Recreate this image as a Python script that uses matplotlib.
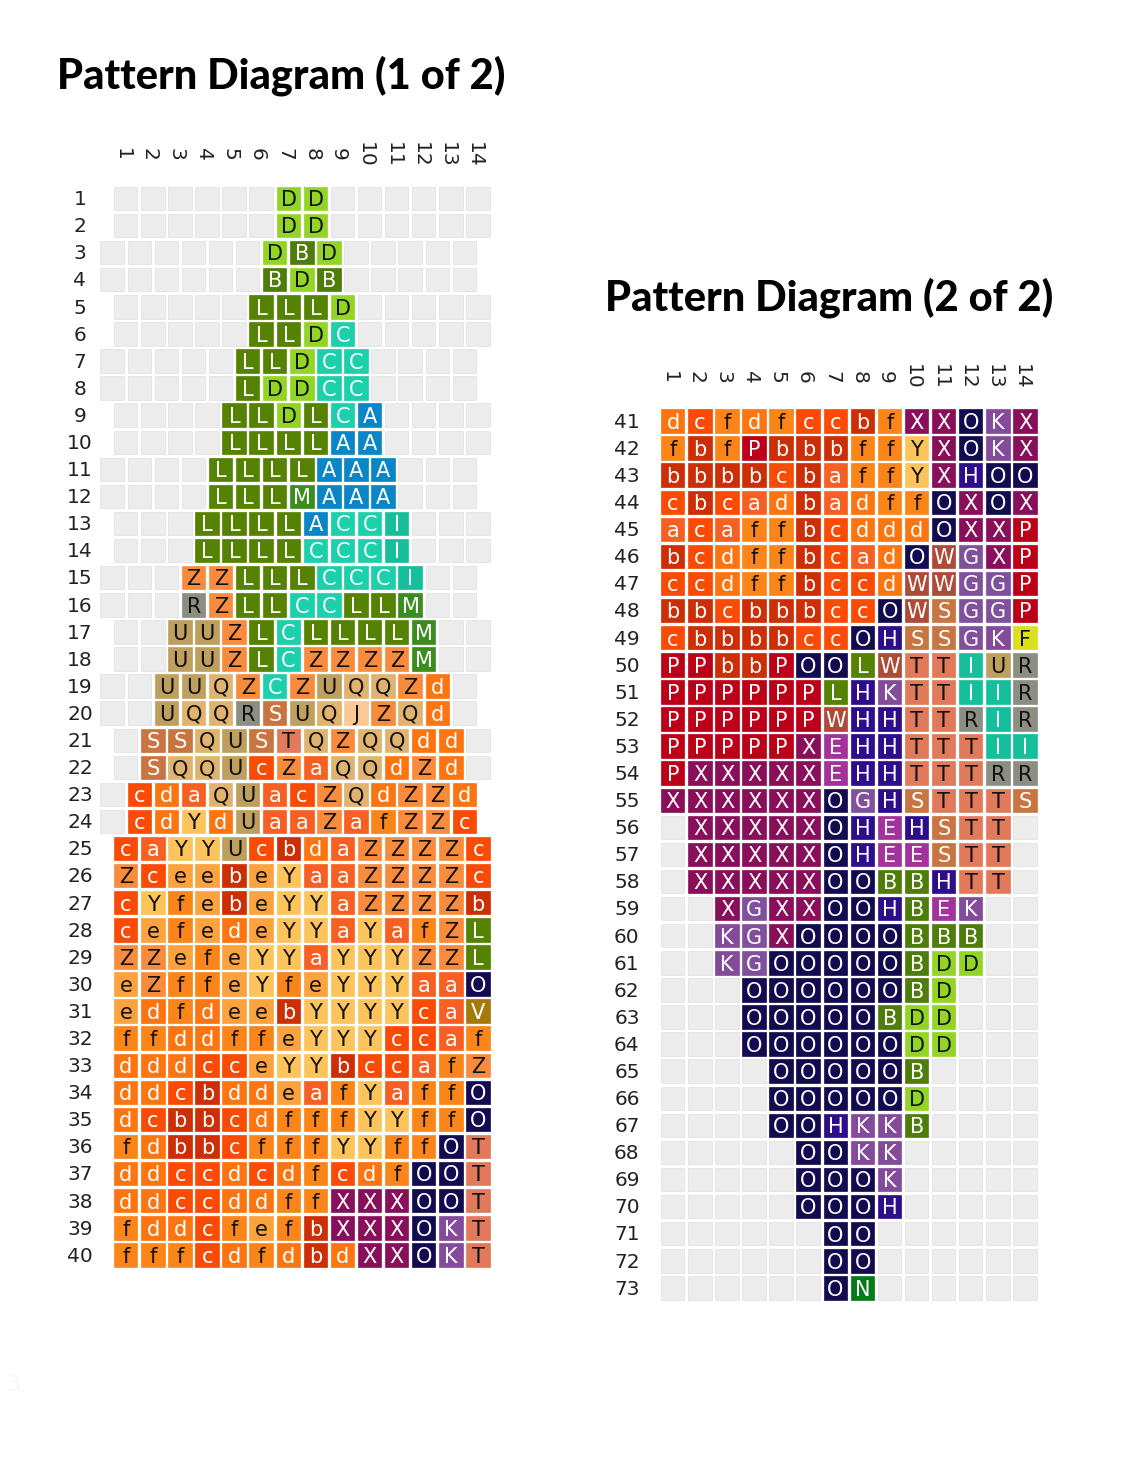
import matplotlib
matplotlib.use("Agg")
import matplotlib.pyplot as plt
import numpy as np

rows_1 = [
    "......DD......", "......DD......", "......DBD.....", "......BDB.....",
    ".....LLLD.....", ".....LLDC.....", ".....LLDCC....", ".....LDDCC....",
    "....LLDLCA....", "....LLLLAA....", "....LLLLAAA...", "....LLLMAAA...",
    "...LLLLACCI...", "...LLLLCCCI...", "...ZZLLLCCCI..", "...RZLLCCLLM..",
    "..UUZLCLLLLM..", "..UUZLCZZZZM..", "..UUQZCZUQQZd.", "..UQQRSUQJZQd.",
    ".SSQUSTQZQQdd.", ".SQQUcZaQQdZd.", ".cdaQUacZQdZZd", ".cdYdUaaZafZZc",
    "caYYUcbdaZZZZc", "ZceebeYaaZZZZc", "cYfebeYYaZZZZb", "cefedeYYaYafZL",
    "ZZefeYYaYYYZZL", "eZffeYfeYYYaaO", "edfdeebYYYYcaV", "ffddffeYYYccaf",
    "dddcceYYbccafZ", "ddcbddeafYaffO", "dcbbcdfffYYffO", "fdbbcfffYYffOT",
    "ddccdcdfcdfOOT", "ddccddffXXXOOT", "fddcfefbXXXOKT", "fffcdfdbdXXOKT",
]
rows_2 = [
    "dcfdfccbfXXOKX", "fbfPbbbffYXOKX", "bbbbcbaffYXHOO", "cbcadbadffOXOX",
    "acaffbcdddOXXP", "bcdffbcadOWGXP", "ccdffbccdWWGGP", "bbcbbbccOWSGGP",
    "cbbbbccOHSSGKF", "PPbbPOOLWTTIUR", "PPPPPPLHKTTIIR", "PPPPPPWHHTTRIR",
    "PPPPPXEHHTTTII", "PXXXXXEHHTTTRR", "XXXXXXOGHSTTTS", ".XXXXXOHEHSTT.",
    ".XXXXXOHEESTT.", ".XXXXXOOBBHTT.", "..XGXXOOHBEK..", "..KGXOOOOBBB..",
    "..KGOOOOOBDD..", "...OOOOOOBD...", "...OOOOOBDD...", "...OOOOOODD...",
    "....OOOOOB....", "....OOOOOD....", "....OOHKKB....", ".....OOKK.....",
    ".....OOOK.....", ".....OOOH.....", "......OO......", "......OO......",
    "......ON......",
]
shifted_rows = [3, 4, 7, 8, 11, 12, 15, 16, 19, 20, 23, 24]
col_labels = [str(i) for i in range(1, 15)]

colors = {
    "A": "#0a86c6", "B": "#4f7d0c", "C": "#1bd0aa", "D": "#93d524", "E": "#a2339a",
    "F": "#dbe01c", "G": "#80509d", "H": "#2d0d8c", "I": "#16bf9c", "J": "#fcc896",
    "K": "#844a9b", "L": "#558200", "M": "#3b8d1e", "N": "#057a18", "O": "#130b50",
    "P": "#bc0018", "Q": "#e0b46e", "R": "#8d8e82", "S": "#c97541", "T": "#e07a5a",
    "U": "#bf9f5d", "V": "#a67a08", "W": "#ad4a38", "X": "#8a0f5b", "Y": "#fec45c",
    "Z": "#f98c3c", "a": "#f85f22", "b": "#cd2e05", "c": "#fa4b05", "d": "#fc7510",
    "e": "#fca33f", "f": "#fb8519",
}
dark_text = "DZRUQJTefYF"

W, H = 1140, 1475
PITCH = 27.09
CELL = 24 / PITCH
BASELINE = 19.5 / PITCH

fig = plt.figure(figsize=(W / 100, H / 100), dpi=100, facecolor="white")


def draw_panel(rows, first_row, left, top, shifts):
    # axes run from half a column left of col 1, so the shifted rows fit
    x0 = left - 0.52 * PITCH
    ax = fig.add_axes([x0 / W, 1 - (top + len(rows) * PITCH) / H,
                       14.52 * PITCH / W, len(rows) * PITCH / H])
    ax.set_xlim(-0.52, 14)
    ax.set_ylim(len(rows), 0)
    for i, row in enumerate(rows):
        num = first_row + i
        off = -0.5 if num in shifts else 0
        x = np.arange(14) + off
        fills = ["#ececec" if ch == "." else colors[ch] for ch in row]
        edges = ["#e0e0e0" if ch == "." else c for ch, c in zip(row, fills)]
        ax.bar(x, CELL - 0.02, width=CELL - 0.02, bottom=i, align="edge", color=fills,
               edgecolor=edges, linewidth=0.5)
        for xi, ch in zip(x, row):
            if ch != ".":
                ax.text(xi + CELL / 2, i + BASELINE, ch, ha="center", va="baseline", fontsize=15,
                        color="#111111" if ch in dark_text else "white")
    ax.xaxis.tick_top()
    ax.set_xticks(np.arange(14) + CELL / 2 - 4 / PITCH)
    ax.set_xticklabels(col_labels, rotation=270, fontsize=14.5, color="#222222", va="center", ha="center")
    ax.set_yticks(np.arange(len(rows)) + CELL / 2 - 1 / PITCH)
    ax.set_yticklabels([str(first_row + i) for i in range(len(rows))], fontsize=14.5,
                        color="#222222", ha="center")
    ax.tick_params(axis="x", length=0, pad=23.2)
    ax.tick_params(axis="y", length=0, pad=14.4)
    for s in ax.spines.values():
        s.set_visible(False)
    return ax


draw_panel(rows_1, 1, 114, 186.7, shifted_rows)
draw_panel(rows_2, 41, 661, 409.3, [])

fig.text(57 / W, 1 - 88 / H, "Pattern Diagram (1 of 2)", fontsize=30, fontweight="black",
         family="Lato", color="black", va="baseline")
fig.text(605 / W, 1 - 310 / H, "Pattern Diagram (2 of 2)", fontsize=30, fontweight="black",
         family="Lato", color="black", va="baseline")
fig.text(13 / W, 1 - 1385 / H, "3", fontsize=16, color="#f8f8f8", ha="center", va="center")

fig.savefig("out.png", dpi=100)
plt.close(fig)
